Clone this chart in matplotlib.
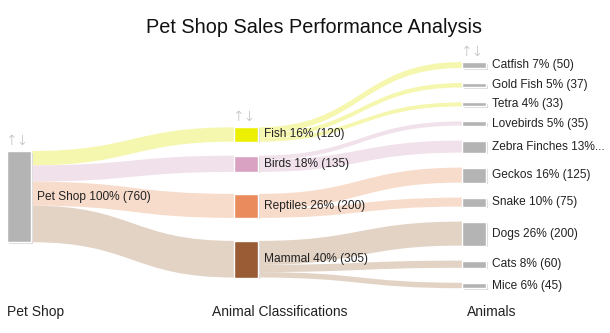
import matplotlib.pyplot as plt
from matplotlib.path import Path
from matplotlib.patches import PathPatch, Rectangle

plt.rcParams['font.family'] = ['Liberation Sans', 'DejaVu Sans']

# data
root_name = 'Pet Shop'
classes = ['Fish', 'Birds', 'Reptiles', 'Mammal']
class_values = [120, 135, 200, 305]
animals = ['Catfish', 'Gold Fish', 'Tetra', 'Lovebirds', 'Zebra Finches',
           'Geckos', 'Snake', 'Dogs', 'Cats', 'Mice']
animal_values = [50, 37, 33, 35, 100, 125, 75, 200, 60, 45]
animal_class = ['Fish', 'Fish', 'Fish', 'Birds', 'Birds',
                'Reptiles', 'Reptiles', 'Mammal', 'Mammal', 'Mammal']
column_titles = ['Pet Shop', 'Animal Classifications', 'Animals']

# styles
class_colors = {'Fish': '#ecf000', 'Birds': '#d9a2c3', 'Reptiles': '#e98b5d', 'Mammal': '#9a5c34'}
link_colors = {'Fish': '#f6f7ae', 'Birds': '#f1e1ea', 'Reptiles': '#f8dccb', 'Mammal': '#e2d3c5'}
gray = '#b4b4b4'

# layout (pixels)
scale = 0.12
node_w = 24
col_x = [7, 234, 462]
col_top = [151, 127.3, 62]
mid_gaps = [14, 22, 23]
right_gap = 15

total = sum(class_values)


def stack(values, top, gaps):
    pos = []
    y = top
    for i, v in enumerate(values):
        h = v * scale
        pos.append((y, y + h))
        if i < len(values) - 1:
            y += h + gaps[i]
    return pos


root_pos = (col_top[0], col_top[0] + total * scale)
class_pos = stack(class_values, col_top[1], mid_gaps)
animal_pos = stack(animal_values, col_top[2], [right_gap] * len(animal_values))

fig = plt.figure(figsize=(6.1, 3.33), dpi=100)
ax = fig.add_axes([0, 0, 1, 1])
ax.set_xlim(0, 610)
ax.set_ylim(333, 0)
ax.axis('off')


def band(x0, y0a, y0b, x1, y1a, y1b, color):
    xm = (x0 + x1) / 2
    verts = [(x0, y0a), (xm, y0a), (xm, y1a), (x1, y1a),
             (x1, y1b), (xm, y1b), (xm, y0b), (x0, y0b), (x0, y0a)]
    codes = [Path.MOVETO, Path.CURVE4, Path.CURVE4, Path.CURVE4,
             Path.LINETO, Path.CURVE4, Path.CURVE4, Path.CURVE4, Path.CLOSEPOLY]
    ax.add_patch(PathPatch(Path(verts, codes), facecolor=color, edgecolor='none', zorder=1))


# links root -> classes
y = root_pos[0]
for c, v, (t0, t1) in zip(classes, class_values, class_pos):
    h = v * scale
    band(col_x[0] + node_w, y, y + h, col_x[1], t0, t1, link_colors[c])
    y += h

# links classes -> animals
offsets = {c: p[0] for c, p in zip(classes, class_pos)}
for a, v, c, (t0, t1) in zip(animals, animal_values, animal_class, animal_pos):
    h = v * scale
    s0 = offsets[c]
    band(col_x[1] + node_w, s0, s0 + h, col_x[2], t0, t1, link_colors[c])
    offsets[c] += h


def node(x, y0, y1, color):
    ax.add_patch(Rectangle((x + 1.5, y0 + 1.5), node_w, y1 - y0,
                           facecolor='#d8d8d8', edgecolor='none', zorder=2))
    ax.add_patch(Rectangle((x, y0), node_w, y1 - y0, facecolor=color,
                           edgecolor='white', linewidth=1, zorder=3))


def label(text, max_len=None):
    if max_len and len(text) > max_len:
        return text[:17] + '...'
    return text


node(col_x[0], root_pos[0], root_pos[1], gray)
ax.text(col_x[0] + node_w + 6, sum(root_pos) / 2, f'{root_name} 100% ({total})',
        fontsize=8.6, color='#222222', va='center', zorder=4)

for c, v, (t0, t1) in zip(classes, class_values, class_pos):
    node(col_x[1], t0, t1, class_colors[c])
    ax.text(col_x[1] + node_w + 6, (t0 + t1) / 2, f'{c} {round(v / total * 100)}% ({v})',
            fontsize=8.6, color='#222222', va='center', zorder=4)

for a, v, (t0, t1) in zip(animals, animal_values, animal_pos):
    node(col_x[2], t0, t1, gray)
    ax.text(col_x[2] + node_w + 6, (t0 + t1) / 2,
            label(f'{a} {round(v / total * 100)}% ({v})', 20),
            fontsize=8.6, color='#222222', va='center', zorder=4)

# sort arrows above each column
for x, top in zip(col_x, [root_pos[0], class_pos[0][0], animal_pos[0][0]]):
    ax.text(x - 1, top - 3, '↑↓', fontsize=10, color='#b8b8b8', va='bottom', ha='left',
            family=['DejaVu Sans'], fontweight='light')

# column titles
for x, t in zip([7, 212, 467], column_titles):
    ax.text(x, 316, t, fontsize=10, color='#222222', va='baseline', ha='left')

ax.text(314, 33, 'Pet Shop Sales Performance Analysis', fontsize=14.3,
        color='#111111', ha='center', va='baseline')

fig.savefig('out.png', dpi=100)
